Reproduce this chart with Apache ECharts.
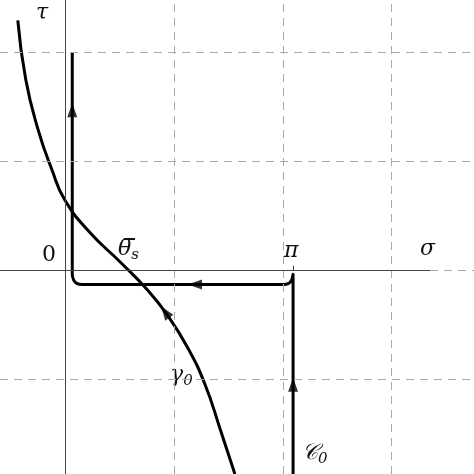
<!DOCTYPE html>
<html>
<head>
<meta charset="UTF-8" />
<script src="https://cdn.jsdelivr.net/npm/echarts@6/dist/echarts.min.js"></script>
<style>
  html, body { margin: 0; padding: 0; background: #fff; }
  #chart { width: 474px; height: 474px; }
</style>
</head>
<body>
<div id="chart"></div>
<script>
  var PI = Math.PI;
  // 网格虚线位置
  var gridX = [1.5, 3.0, 4.5];
  var gridY = [3.0, 1.5, -1.5];
  // 曲线 γ0
  var gammaCurve = [
    [-0.65, 3.44], [-0.54, 2.62], [-0.37, 1.93], [-0.18, 1.38], [0, 0.96],
    [0.34, 0.52], [0.76, 0.11], [1.14, -0.28], [1.41, -0.62], [1.69, -1.07],
    [1.93, -1.58], [2.14, -2.2], [2.34, -2.81]
  ];
  // 围道 C0
  var contour = [
    [0.1, 3.0], [0.1, -0.06], [0.12, -0.14], [0.16, -0.185], [0.24, -0.2],
    [PI - 0.14, -0.2], [PI - 0.06, -0.185], [PI - 0.02, -0.14], [PI, -0.06], [PI, -2.81]
  ];
  // 箭头 [σ, τ, 旋转角]
  var arrows = [
    [0.1, 2.2, 0], [1.79, -0.2, 90], [PI, -1.58, 0], [1.38, -0.58, 36]
  ];

  var chart = echarts.init(document.getElementById('chart'));
  var xMin = -65 / 72.6, xMax = 409 / 72.6;
  var yMax = 270 / 72.6, yMin = -204 / 72.6;

  var dashed = { color: '#aaa', type: [8, 6], width: 1 };
  var gridLines = [];
  gridX.forEach(function (v) { gridLines.push([{ coord: [v, yMin] }, { coord: [v, yMax] }]); });
  gridY.forEach(function (v) { gridLines.push([{ coord: [xMin, v] }, { coord: [xMax, v] }]); });
  gridLines.push([{ coord: [365 / 72.6, 0] }, { coord: [xMax, 0] }]);

  var font = '"DejaVu Serif", "Liberation Serif", serif';
  function label(x, y, text, size) {
    return { type: 'text', left: x, top: y, style: { text: text, font: 'italic ' + (size || 22) + 'px ' + font, fill: '#111',
      rich: { s: { font: 'italic 15px ' + font, fill: '#111', padding: [12, 0, 0, 0] } } } };
  }

  chart.setOption({
    animation: false,
    grid: { left: 0, right: 0, top: 0, bottom: 0 },
    xAxis: { type: 'value', min: xMin, max: xMax, show: false },
    yAxis: { type: 'value', min: yMin, max: yMax, show: false },
    series: [
      {
        type: 'line', data: [], silent: true,
        markLine: { symbol: 'none', silent: true, label: { show: false }, lineStyle: dashed, data: gridLines }
      },
      {
        type: 'line', data: [], silent: true,
        markLine: {
          symbol: 'none', silent: true, label: { show: false },
          lineStyle: { color: '#444', type: 'solid', width: 1 },
          data: [
            [{ coord: [0, yMin] }, { coord: [0, yMax] }],
            [{ coord: [xMin, 0] }, { coord: [365 / 72.6, 0] }],
            [{ coord: [PI, 0] }, { coord: [PI, 0.06] }]
          ]
        }
      },
      { type: 'line', data: gammaCurve, smooth: 0.5, showSymbol: false, lineStyle: { color: '#000', width: 3 } },
      { type: 'line', data: contour, smooth: 0.3, showSymbol: false, lineStyle: { color: '#000', width: 3, join: 'round' } },
      {
        type: 'scatter', symbol: 'triangle', symbolSize: [10, 14],
        itemStyle: { color: '#000' },
        data: arrows.map(function (a) { return { value: [a[0], a[1]], symbolRotate: a[2] }; })
      }
    ],
    graphic: [
      label(36, 2, 'τ'),
      label(420, 238, 'σ'),
      { type: 'text', left: 42, top: 244, style: { text: '0', font: '22px ' + font, fill: '#111' } },
      label(284, 240, 'π'),
      label(118, 238, 'θ{s|s}'),
      { type: 'rect', shape: { x: 124, y: 238, width: 11, height: 2 }, style: { fill: '#111' } },
      label(170, 364, 'γ{s|0}'),
      label(302, 442, '𝒞{s|0}')
    ]
  });
</script>
</body>
</html>
